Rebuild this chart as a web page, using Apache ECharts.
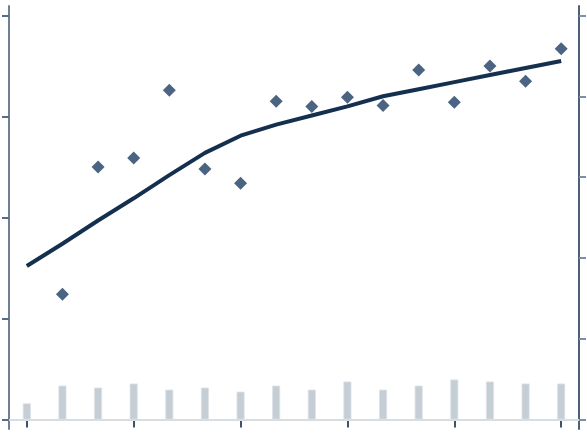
<!DOCTYPE html>
<html>
<head>
<meta charset="utf-8">
<script src="https://cdn.jsdelivr.net/npm/echarts@6/dist/echarts.min.js"></script>
<style>html,body{margin:0;padding:0;background:#fff}#c{width:587px;height:439px}</style>
</head>
<body>
<div id="c"></div>
<script>
const categories = ['1','2','3','4','5','6','7','8','9','10','11','12','13','14','15','16'];
const trendValues = [1.52,1.74,1.97,2.19,2.42,2.64,2.81,2.92,3.01,3.10,3.20,3.27,3.34,3.41,3.48,3.55];
const pointValues = [null,1.24,2.50,2.59,3.26,2.48,2.34,3.15,3.10,3.19,3.11,3.46,3.14,3.50,3.35,3.67];
const barValues = [4.0,8.4,7.9,8.9,7.4,7.9,6.9,8.4,7.4,9.4,7.4,8.4,9.9,9.4,8.9,8.9];
const leftTicks = [0,1,2,3,4];
const rightTicks = [0,20,40,60,80,100];

const chart = echarts.init(document.getElementById('c'), null, {renderer:'canvas'});
chart.setOption({
  animation: false,
  backgroundColor: '#ffffff',
  grid: {left: 9, right: 8, top: 6, bottom: 10},
  xAxis: {
    type: 'category',
    data: categories,
    boundaryGap: true,
    axisLine: {lineStyle: {color: '#3e5269', width: 2}},
    axisTick: {show: true, alignWithLabel: true, interval: 2, length: 8, lineStyle: {color: '#3e5269', width: 2}},
    axisLabel: {show: false},
    splitLine: {show: false}
  },
  yAxis: [
    {
      type: 'value', position: 'left',
      min: -0.094, max: 4.094,
      axisLine: {show: true, lineStyle: {color: '#6f8094', width: 2}},
      axisTick: {show: true, length: 7, customValues: leftTicks, lineStyle: {color: '#5a6c82', width: 2}},
      axisLabel: {show: false, customValues: leftTicks},
      splitLine: {show: false}
    },
    {
      type: 'value', position: 'right',
      min: -2.35, max: 102.35,
      axisLine: {show: true, lineStyle: {color: '#4d6079', width: 2}},
      axisTick: {show: true, length: 7, customValues: rightTicks, lineStyle: {color: '#7d8ea2', width: 2}},
      axisLabel: {show: false, customValues: rightTicks},
      splitLine: {show: false}
    }
  ],
  series: [
    {
      type: 'bar', yAxisIndex: 1, data: barValues, barWidth: 8,
      itemStyle: {color: '#c5cdd5', borderColor: '#dde2e7', borderWidth: 0.8},
      markLine: {
        silent: true, symbol: 'none', label: {show: false},
        lineStyle: {color: '#d8dde2', width: 2, type: 'solid'},
        data: [{yAxis: 0}]
      },
      z: 1
    },
    {
      type: 'line', yAxisIndex: 0, data: trendValues,
      showSymbol: false, symbol: 'none',
      lineStyle: {color: '#15304f', width: 4},
      z: 3
    },
    {
      type: 'scatter', yAxisIndex: 0, data: pointValues,
      symbol: 'diamond', symbolSize: [13, 13],
      itemStyle: {color: '#4b6482', opacity: 1},
      z: 4
    }
  ]
});
</script>
</body>
</html>
